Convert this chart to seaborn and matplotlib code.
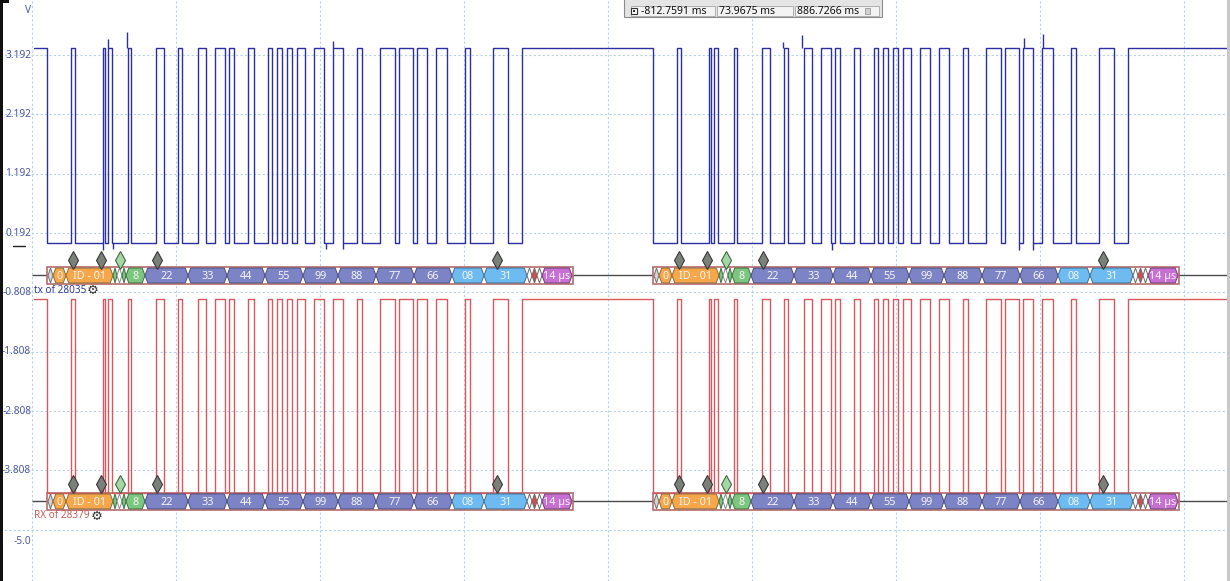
import numpy as np
import pandas as pd
import matplotlib
matplotlib.use("Agg")
import matplotlib.pyplot as plt
import seaborn as sns
from matplotlib.patches import Polygon, Rectangle

# time in us (one grid division = 72 us), voltage in V
# low intervals of one CAN frame (both channels show the same frame)
low_start = [7.5, 21.5, 36.5, 40, 49.5, 66, 75, 87, 96.5, 101, 111, 120, 125, 130,
             136.5, 146, 155.5, 165, 181.5, 190.5, 197.5, 207.5, 219, 238]
low_end = [19.5, 35.5, 38, 48, 62, 73, 83, 91.5, 98.5, 108, 118, 122.5, 127.5, 132.5,
           141, 150.5, 162.5, 174, 183.5, 192.5, 202, 216.5, 230.5, 245]
frame_offsets = [0, 303]
trace_start = 1
trace_end = 599

tx_high, tx_low = 3.31, 0.03
rx_high, rx_low = -0.92, -4.18

# overshoot spikes / dips on the tx trace
spike_t = [38, 47.5, 150.5, 375.5, 385, 496, 505.5]
spike_v = [3.46, 3.58, 3.43, 3.41, 3.53, 3.48, 3.55]
dip_t = [35.5, 40.5, 147, 155.5, 400, 493.5, 500.5]
dip_v = [-0.09, -0.08, -0.07, -0.07, -0.09, -0.09, -0.09]

# decoded fields (relative to frame start)
field_edges = [8, 10.5, 17, 40.5, 42.5, 45, 47, 56.5, 78, 97.5, 116.5, 135.5, 153,
               172, 191, 210, 226, 247.5, 250, 252.5, 255, 270]
field_labels = ["", "0", "ID - 01", "", "", "", "8", "22", "33", "44", "55", "99",
                "88", "77", "66", "08", "31", "", "", "", "14 µs"]
field_kinds = ["sof", "hdr", "hdr", "ctl", "gap", "ctl", "ctl", "data", "data", "data",
               "data", "data", "data", "data", "data", "crc", "crc", "x", "xr", "x", "tail"]
marker_t = [20.5, 34.5, 44, 62.5, 232.5]
marker_green = [False, False, True, False, False]

ytick_values = [3.192, 2.192, 1.192, 0.192, -0.808, -1.808, -2.808, -3.808, -5.0]
ytick_labels = ["3.192", "2.192", "1.192", "0.192", "-0.808", "-1.808", "-2.808", "-3.808", "-5.0"]
grid_y = [3.192, 2.192, 1.192, 0.192, -0.808, -1.808, -2.808, -3.808, -4.808]
grid_x = np.arange(0, 599, 72)

kind_colors = {
    "sof": ("#d4d4d4", "#707070"),
    "hdr": ("#f5a74a", "#8a6a40"),
    "ctl": ("#7cc67f", "#3f6f42"),
    "gap": ("#ffffff", "#8a8a8a"),
    "data": ("#7d84c6", "#4a4e7a"),
    "crc": ("#6dbbf0", "#3f6f8f"),
    "x": ("#ffffff", "#6a6a6a"),
    "xr": ("#e04848", "#6a6a6a"),
    "tail": ("#c86fd3", "#6f3f76"),
}


def wave(high, low):
    t = [trace_start]
    v = [high]
    for off in frame_offsets:
        for a, b in zip(low_start, low_end):
            t += [off + a, off + a, off + b, off + b]
            v += [high, low, low, high]
    t.append(trace_end)
    v.append(high)
    return pd.DataFrame({"t": t, "v": v})


sns.set_theme(style="white")
plt.rcParams["font.family"] = ["Noto Sans", "DejaVu Sans"]

fig = plt.figure(figsize=(12.3, 5.81), dpi=100)
ax = fig.add_axes([0, 0, 1, 1])
ax.set_xlim(-16, 599)
ax.set_ylim(-5.671, 4.119)
ax.set_axis_off()

# grid
for gy in grid_y:
    ax.axhline(gy, color="#b9d3e6", lw=0.8, ls=(0, (2, 2)), zorder=0)
for gx in grid_x:
    ax.axvline(gx, color="#b9d3e6", lw=0.8, ls=(0, (2, 2)), zorder=0)

# y labels
for val, lab in zip(ytick_values, ytick_labels):
    ax.text(-0.4, val, lab, ha="right", va="center", fontsize=7.3, color="#4b58a3")
ax.text(-0.6, 3.95, "V", ha="right", va="center", fontsize=7.3, color="#4b58a3")
ax.plot([-9.5, -3.5], [-0.03, -0.03], color="#222222", lw=1)


def draw_bus(yc, my):
    ax.hlines(yc, 0, trace_end, color="#4a4a4a", lw=1, zorder=2)
    h = 0.126
    for off in frame_offsets:
        ax.add_patch(Rectangle((off + 7.5, yc - 0.15), 263, 0.30, fc="white",
                               ec="#b56b6b", lw=1.2, zorder=3))
        for i, lab in enumerate(field_labels):
            x0 = off + field_edges[i]
            x1 = off + field_edges[i + 1]
            tip = min(1.4, (x1 - x0) / 2)
            fc, ec = kind_colors[field_kinds[i]]
            pts = [(x0, yc), (x0 + tip, yc + h), (x1 - tip, yc + h), (x1, yc),
                   (x1 - tip, yc - h), (x0 + tip, yc - h)]
            ax.add_patch(Polygon(pts, closed=True, fc=fc, ec=ec, lw=0.7, zorder=4))
            if lab:
                ax.text((x0 + x1) / 2, yc - 0.01, lab, ha="center", va="center",
                        fontsize=7.8, color="#f4f4f4", zorder=5)
        for mt, g in zip(marker_t, marker_green):
            ax.plot(off + mt, my, marker="d", ms=9,
                    mfc="#a6d6a6" if g else "#7b807b",
                    mec="#3d6a3d" if g else "#3a3a3a", mew=0.8, zorder=6)


draw_bus(-0.523, -0.262)
draw_bus(-4.33, -4.04)

# traces
tx = wave(tx_high, tx_low)
rx = wave(rx_high, rx_low)
sns.lineplot(data=tx, x="t", y="v", sort=False, estimator=None, color="#2b2fa0",
             lw=1.0, ax=ax, zorder=3)
sns.lineplot(data=rx, x="t", y="v", sort=False, estimator=None, color="#d9575f",
             lw=1.0, ax=ax, zorder=3)
ax.vlines(spike_t, tx_high, spike_v, color="#2b2fa0", lw=1.0, zorder=3)
ax.vlines(dip_t, dip_v, tx_low, color="#2b2fa0", lw=1.0, zorder=3)

# channel names
ax.text(1, -0.77, "tx of 28035", ha="left", va="center", fontsize=7.2, color="#333d9a")
ax.text(27.3, -0.77, "⚙", ha="left", va="center", fontsize=9.5, color="#333333")
ax.text(1, -4.575, "RX of 28379", ha="left", va="center", fontsize=7.2, color="#cc5a5a")
ax.text(29.3, -4.575, "⚙", ha="left", va="center", fontsize=9.5, color="#333333")

# window chrome (figure pixel coordinates)
W, H = 1230, 581


def frect(x, y, w, h, **kw):
    fig.patches.append(Rectangle((x / W, 1 - (y + h) / H), w / W, h / H,
                                 transform=fig.transFigure, **kw))


frect(0, 0, 3, H, fc="#111111", ec="none", zorder=10)
frect(0, 0, 9, 3, fc="#111111", ec="none", zorder=10)
frect(1227, 0, 3, H, fc="#c8c8c8", ec="none", zorder=10)
frect(624, -2, 258, 19, fc="#e4e4e4", ec="#8c8c8c", lw=0.8, zorder=10)
for cx, cw in [(631, 84), (717, 76), (795, 84)]:
    frect(cx, 6, cw, 10, fc="#f3f3f3", ec="#a6a6a6", lw=0.6, zorder=11)
frect(631, 8, 6, 6, fc="#ffffff", ec="#333333", lw=0.8, zorder=12)
frect(633, 10, 2, 2, fc="#333333", ec="none", zorder=13)
frect(865, 8, 5, 6, fc="#d0d0d0", ec="#9a9a9a", lw=0.6, zorder=12)
for tx_, lab in [(641, "-812.7591 ms"), (719, "73.9675 ms"), (797, "886.7266 ms")]:
    fig.text(tx_ / W, 1 - 11 / H, lab, ha="left", va="center", fontsize=7.5,
             color="#111111", zorder=14)

fig.savefig("out.png", dpi=100)
